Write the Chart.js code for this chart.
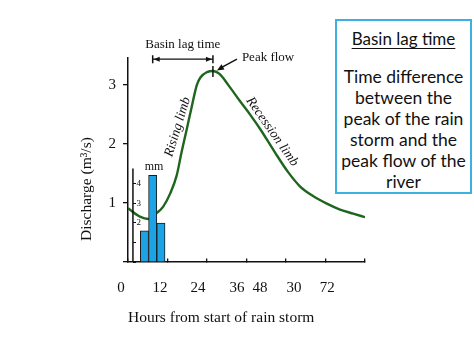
<!DOCTYPE html>
<html><head><meta charset="utf-8">
<script src="https://cdn.jsdelivr.net/npm/chart.js@4.4.0/dist/chart.umd.min.js"></script>
<style>
html,body{margin:0;padding:0;background:#fff;overflow:hidden}
#wrap{position:relative;width:474px;height:355px}
#c{position:absolute;left:0;top:0}
#box{position:absolute;left:335px;top:19px;width:137px;height:175px;box-sizing:border-box;border:2.5px solid #3cb0e0;background:#fff;font-family:Lato,'Noto Sans',sans-serif;color:#111;text-align:center;white-space:nowrap}
#box .t{margin-top:7px;font-size:17px;line-height:22px;text-decoration:underline;text-underline-offset:3px}
#box .b{margin-top:16px;font-size:17.5px;line-height:21px}
</style></head><body>
<div id="wrap"><canvas id="c" width="474" height="355"></canvas>
<div id="box"><div class="t">Basin lag time</div><div class="b">Time difference<br>between the<br>peak of the rain<br>storm and the<br>peak flow of the<br>river</div></div></div>
<script>
// ---- data ----
const hours = [0, 3.6, 6.2, 8.7, 10.7, 12.8, 14.8, 16.3, 17.8, 19.35, 20.9, 22.0, 24.0, 25.8, 27.8, 30.5, 34, 37.1, 40.1, 44.4, 48.7, 52.3, 56.2, 60.4, 64.4, 68.4, 72];
const discharge = [0.91, 0.77, 0.73, 0.83, 0.94, 1.16, 1.47, 1.87, 2.24, 2.63, 3.0, 3.13, 3.22, 3.24, 3.19, 3.0, 2.73, 2.5, 2.26, 1.88, 1.52, 1.28, 1.12, 0.99, 0.89, 0.82, 0.76];
const rainHours = [5, 7.5, 10];
const rainfall = [1.6, 4.45, 2.0];
const xTickValues = [0, 12, 24, 36, 48, 60, 72];
const xTickLabels = ['0', '12', '24', '36', '48', '30', '72'];
const xLabelHours = [-2.1, 9.7, 21.3, 33.1, 40.1, 50.4, 60.5];
const yTickValues = [0, 1, 2, 3];
const rainTickValues = [0, 1, 2, 3, 4];
const rainLabelValues = [2, 3, 4];

// ---- layout constants ----
const rainAxisHour = 1.5, rainLabelHour = 3.95, rainAxisTop = 4.8, rainScaleMax = 10.46;
const INK = '#111';
const SERIF = "'Liberation Serif','Times New Roman',serif";

const peakIdx = discharge.indexOf(Math.max(...discharge));
const peakHour = hours[peakIdx], peakQ = discharge[peakIdx];
const rainPeakHour = rainHours[rainfall.indexOf(Math.max(...rainfall))];

function arrowHead(ctx, x1, y1, x2, y2, len, half) {
  const a = Math.atan2(y2 - y1, x2 - x1);
  ctx.beginPath();
  ctx.moveTo(x2, y2);
  ctx.lineTo(x2 - len * Math.cos(a) + half * Math.sin(a), y2 - len * Math.sin(a) - half * Math.cos(a));
  ctx.lineTo(x2 - len * Math.cos(a) - half * Math.sin(a), y2 - len * Math.sin(a) + half * Math.cos(a));
  ctx.closePath(); ctx.fill();
}

const annotate = {
  id: 'annotate',
  afterDraw(chart) {
    const {ctx, scales: {x, y, yr}} = chart;
    const X = v => x.getPixelForValue(v), Y = v => y.getPixelForValue(v);
    ctx.save();
    ctx.strokeStyle = INK; ctx.fillStyle = INK;
    // rain axis line
    ctx.lineWidth = 1.5;
    ctx.beginPath();
    ctx.moveTo(X(rainAxisHour), yr.getPixelForValue(0));
    ctx.lineTo(X(rainAxisHour), yr.getPixelForValue(rainAxisTop));
    ctx.stroke();
    // mm label
    ctx.font = '12px ' + SERIF; ctx.textAlign = 'center'; ctx.textBaseline = 'middle';
    ctx.fillText('mm', X(7.9), yr.getPixelForValue(4.87));
    // lag arrow
    const ly = Y(3.44), lx1 = X(rainPeakHour), lx2 = X(peakHour);
    ctx.lineWidth = 1.3;
    ctx.beginPath(); ctx.moveTo(lx1, ly); ctx.lineTo(lx2, ly); ctx.stroke();
    ctx.lineWidth = 1.5;
    ctx.beginPath(); ctx.moveTo(lx1, ly - 4); ctx.lineTo(lx1, ly + 4); ctx.moveTo(lx2, ly - 4); ctx.lineTo(lx2, ly + 4); ctx.stroke();
    arrowHead(ctx, lx2, ly, lx1 + 1, ly, 6, 2.5);
    arrowHead(ctx, lx1, ly, lx2 - 1, ly, 6, 2.5);
    ctx.font = '13px ' + SERIF;
    ctx.fillText('Basin lag time', (lx1 + lx2) / 2, Y(3.68));
    // peak tick
    ctx.beginPath(); ctx.moveTo(X(peakHour), Y(peakQ) - 5); ctx.lineTo(X(peakHour), Y(peakQ) + 6); ctx.stroke();
    // peak flow arrow
    const ax1 = X(33.1), ay1 = Y(3.44), ax2 = X(27.0), ay2 = Y(3.25);
    ctx.lineWidth = 1.5;
    ctx.beginPath(); ctx.moveTo(ax1, ay1); ctx.lineTo(ax2 + 3, ay2 - 2); ctx.stroke();
    arrowHead(ctx, ax1, ay1, ax2, ay2, 7, 3);
    ctx.textAlign = 'left';
    ctx.fillText('Peak flow', X(34.6), Y(3.46));
    // limb labels
    ctx.font = 'italic 13.5px ' + SERIF; ctx.textAlign = 'center';
    ctx.save(); ctx.translate(X(15.1), Y(2.29)); ctx.rotate(-73 * Math.PI / 180); ctx.fillText('Rising limb', 0, 0); ctx.restore();
    ctx.save(); ctx.translate(X(43.8), Y(2.21)); ctx.rotate(55 * Math.PI / 180); ctx.fillText('Recession limb', 0, 0); ctx.restore();
    ctx.restore();
  }
};

Chart.defaults.font.family = SERIF;
Chart.defaults.color = INK;

new Chart(document.getElementById('c'), {
  data: {
    datasets: [
      {type: 'bar', label: 'Rainfall (mm)', data: rainHours.map((h, i) => ({x: h, y: rainfall[i]})),
       xAxisID: 'x', yAxisID: 'yr', backgroundColor: '#1ba3e6', borderColor: '#1a1a1a', borderWidth: 1,
       barPercentage: 1, categoryPercentage: 1, order: 0},
      {type: 'line', label: 'Discharge', data: hours.map((h, i) => ({x: h, y: discharge[i]})),
       xAxisID: 'x', yAxisID: 'y', borderColor: '#1e661e', borderWidth: 2.4, pointRadius: 0,
       tension: 0.4, cubicInterpolationMode: 'monotone', fill: false, order: 1}
    ]
  },
  options: {
    responsive: false, animation: false, devicePixelRatio: 1,
    layout: {padding: {left: 0, top: 58, right: 109, bottom: 0}},
    plugins: {legend: {display: false}, tooltip: {enabled: false}},
    scales: {
      x: {type: 'linear', position: 'bottom', min: 0, max: 72, offset: false,
        afterBuildTicks: s => { s.ticks = xLabelHours.map(v => ({value: v})); },
        ticks: {autoSkip: false, maxRotation: 0, padding: 9, font: {size: 15}, color: INK,
                callback: (v, i) => xTickLabels[i]},
        grid: {display: false, offset: false}, border: {display: false},
        title: {display: true, text: 'Hours from start of rain storm', align: 'start',
                font: {size: 15.5}, color: INK, padding: {top: 0, bottom: 28}},
        afterFit: s => { s.height = 93; }
      },
      x2: {type: 'linear', axis: 'x', position: {y: 0}, min: 0, max: 72, offset: false,
        afterBuildTicks: s => { s.ticks = xTickValues.map(v => ({value: v})); },
        ticks: {display: false},
        grid: {drawOnChartArea: false, tickLength: -4, color: INK, lineWidth: 1.3, offset: false},
        border: {display: true, color: INK, width: 1.5}
      },
      y: {type: 'linear', position: 'left', min: 0, max: 3.46, offset: false,
        afterBuildTicks: s => { s.ticks = yTickValues.map(v => ({value: v})); },
        ticks: {padding: 7, font: {size: 15}, color: INK, callback: v => v === 0 ? '' : String(v)},
        grid: {drawOnChartArea: false, tickLength: 5, color: INK, lineWidth: 1.3},
        border: {color: INK, width: 1.5},
        title: {display: true, text: 'Discharge (m³/s)' + ' '.repeat(15), font: {size: 15.5}, color: INK,
                padding: {top: 78, bottom: 0}},
        afterFit: s => { s.width = 128; }
      },
      yr: {type: 'linear', axis: 'y', position: {x: rainAxisHour}, min: 0, max: rainScaleMax, offset: false,
        afterBuildTicks: s => { s.ticks = rainTickValues.map(v => ({value: v})); },
        ticks: {display: false},
        grid: {drawOnChartArea: false, tickLength: -3, color: INK, lineWidth: 1},
        border: {display: false}
      },
      yrl: {type: 'linear', axis: 'y', position: {x: rainLabelHour}, min: 0, max: rainScaleMax, offset: false,
        afterBuildTicks: s => { s.ticks = rainLabelValues.map(v => ({value: v})); },
        ticks: {font: {size: 9}, color: INK, padding: 0},
        grid: {display: false}, border: {display: false}
      }
    }
  },
  plugins: [annotate]
});
</script>
</body></html>
